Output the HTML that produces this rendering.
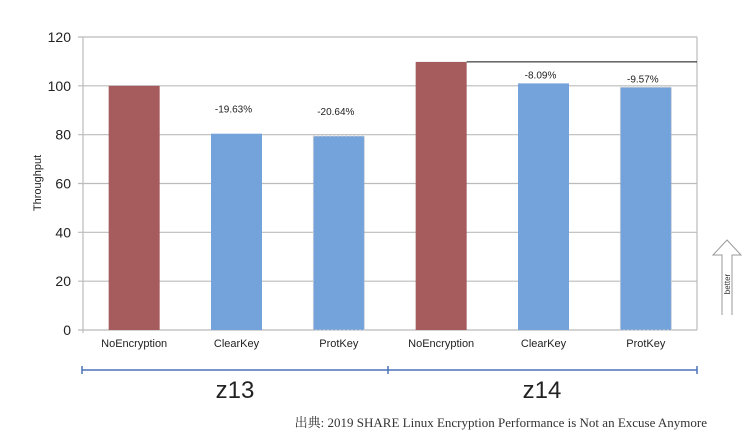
<!DOCTYPE html>
<html><head><meta charset="utf-8"><style>
body{margin:0;background:#fff;}
svg{display:block;font-family:"Liberation Sans",sans-serif;}
</style></head><body>
<svg id="chart" width="750" height="441" viewBox="0 0 750 441">
<g id="grid"></g>
<g id="bars"></g>
<g id="labels"></g>
<text x="41" y="183" font-size="11" text-anchor="middle" transform="rotate(-90 41 183)" fill="#222">Throughput</text>
<g stroke="#4a72b8" stroke-width="1.5">
<line x1="82" y1="370" x2="697" y2="370"/>
<line x1="82" y1="366" x2="82" y2="374"/><line x1="388" y1="366" x2="388" y2="374"/><line x1="697" y1="366" x2="697" y2="374"/>
</g>
<text x="235" y="398" font-size="24" text-anchor="middle" fill="#222">z13</text>
<text x="542" y="398" font-size="24" text-anchor="middle" fill="#222">z14</text>
<text x="707" y="427" font-size="13" text-anchor="end" fill="#333" font-family="Liberation Serif, Noto Serif CJK SC, serif">出典: 2019 SHARE Linux Encryption Performance is Not an Excuse Anymore</text>
<g fill="none" stroke="#999" stroke-width="1">
<path d="M722 315 L722 255 L713 255 L727 240 L741 255 L732 255 L732 315"/>
</g>
<text x="727" y="284" font-size="8" text-anchor="middle" transform="rotate(-90 727 284)" fill="#333" dy="3">better</text>
</svg>
<script>
const categories=["NoEncryption","ClearKey","ProtKey","NoEncryption","ClearKey","ProtKey"];
const values=[100,80.4,79.4,109.8,101,99.4];
const pctLabels=["","-19.63%","-20.64%","","-8.09%","-9.57%"];
const yTicks=[0,20,40,60,80,100,120];
const ns="http://www.w3.org/2000/svg";
const L=83,R=697,T=37,B=330,yMax=120;
const y=v=>B-(v/yMax)*(B-T);
const step=(R-L)/categories.length;
const xc=i=>L+step*(i+0.5);
function mk(t,a,p){const e=document.createElementNS(ns,t);for(const k in a)e.setAttribute(k,a[k]);p.appendChild(e);return e;}
const grid=document.getElementById('grid'),bars=document.getElementById('bars'),labels=document.getElementById('labels');
yTicks.forEach(v=>{
 const l=mk('line',{x1:L-5,x2:R,y1:y(v),y2:y(v),stroke:'#bbb','stroke-width':1.2},grid);
 
 
 const t=mk('text',{x:L-12,y:y(v)+5,'font-size':14,'text-anchor':'end',fill:'#222'},labels);
 t.textContent=v;
 
 
});
const ax=mk('line',{x1:L,x2:L,y1:T,y2:B+3,stroke:'#bbb','stroke-width':1.2},grid);


const rx=mk('line',{x1:R,x2:R,y1:T,y2:B,stroke:'#bbb','stroke-width':1.2},grid);


const bw=51;
categories.forEach((c,i)=>{
 const red=c==="NoEncryption";
 const attrs={x:xc(i)-bw/2,y:y(values[i]),width:bw,height:B-y(values[i]),fill:red?'#a65c5c':'#74a2db'};
 if(c==="ProtKey"){attrs.stroke='#ccc';attrs['stroke-dasharray']='2 2';}
 const r=mk('rect',attrs,bars);
 
 
 const t=mk('text',{x:xc(i),y:B+17,'font-size':11,'text-anchor':'middle',fill:'#222'},labels);
 t.textContent=c;
 
 
 if(pctLabels[i]){
  const off=i<3?21:5;
  const p=mk('text',{x:xc(i)-3,y:y(values[i])-off,'font-size':10,'text-anchor':'middle',fill:'#222'},labels);
  p.textContent=pctLabels[i];
  
  
 }
});
const ref=mk('line',{x1:xc(3)+bw/2,x2:R,y1:y(values[3]),y2:y(values[3]),stroke:'#111','stroke-width':1},bars);


</script>
</body></html>
